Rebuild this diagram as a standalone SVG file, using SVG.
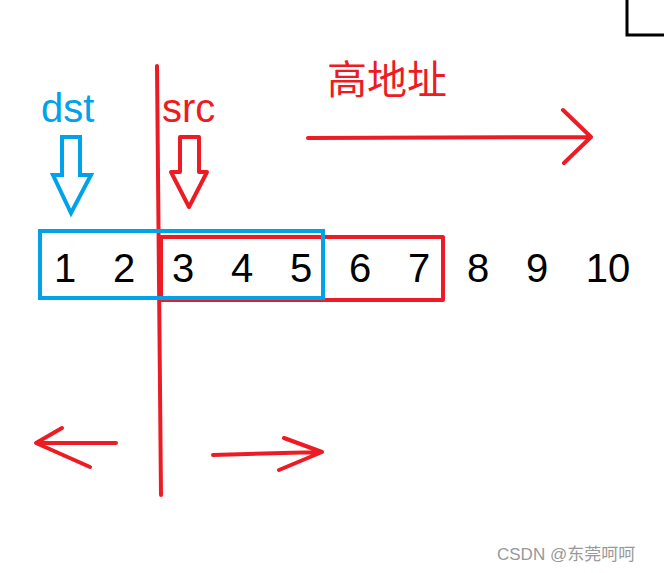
<svg xmlns="http://www.w3.org/2000/svg" width="664" height="573" viewBox="0 0 664 573">
<style>
.r{fill:none;stroke:#ed1c24;stroke-width:4;stroke-linecap:round;stroke-linejoin:round}
.b{fill:none;stroke:#00a2e8;stroke-width:4;stroke-linejoin:miter}
.n{font-family:"Liberation Sans",Arial,sans-serif;font-size:40px;fill:#000;text-anchor:middle}
.t{font-family:"Liberation Sans","Noto Sans CJK SC",sans-serif;font-size:40px}
</style>
<rect width="664" height="573" fill="#fff"/>
<path d="M627 0V35H664" fill="none" stroke="#000" stroke-width="3"/>
<text class="t" x="41" y="122" fill="#00a2e8">dst</text>
<text class="t" x="162" y="122" fill="#ed1c24">src</text>
<text class="t" x="327" y="94" fill="#ed1c24" font-family="Noto Sans CJK SC,sans-serif" font-size="38">高地址</text>
<g id="connectors">
<path class="r" d="M157 66L161 495"/>
<path class="r" d="M308 138L590 137M563 110L591 137L564 163"/>
<path class="r" d="M40 443L116 443M62 428L36 443L90 467"/>
<path class="r" d="M213 455L322 452M284 438L322 452L279 470"/>
</g>
<g id="arrow-dst"><path class="b" d="M62 137H80V175H91L71 213L53 175H62Z" stroke-width="3.5"/></g>
<g id="arrow-src"><path class="r" d="M180 137H199V172H207L189 207L171 172H180Z" stroke-width="3.5"/></g>
<g id="box-src"><rect class="r" x="161" y="237" width="282" height="63" stroke-linecap="butt"/></g>
<g id="box-dst"><rect class="b" x="40" y="231" width="283" height="67"/></g>
<g id="numbers">
<text class="n" x="65" y="282">1</text><text class="n" x="124" y="282">2</text><text class="n" x="183" y="282">3</text><text class="n" x="242" y="282">4</text><text class="n" x="301" y="282">5</text><text class="n" x="360" y="282">6</text><text class="n" x="419" y="282">7</text><text class="n" x="478" y="282">8</text><text class="n" x="537" y="282">9</text><text class="n" x="608" y="282">10</text>
</g>
<text x="497" y="560" font-family="Liberation Sans,Noto Sans CJK SC,sans-serif" font-size="17" fill="#999">CSDN @东莞呵呵</text>
</svg>
